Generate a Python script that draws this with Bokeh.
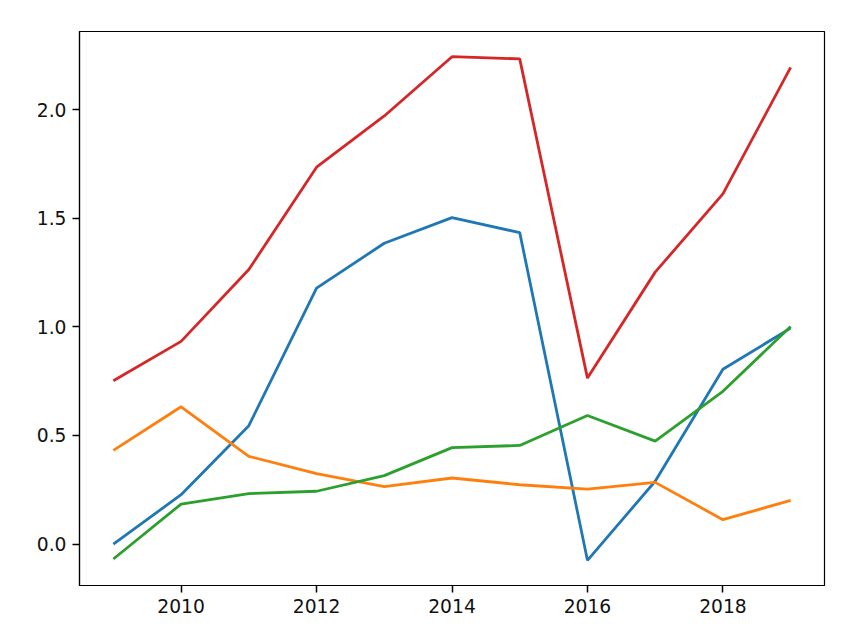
from bokeh.plotting import figure
from bokeh.models import Range1d, FixedTicker
from bokeh.embed import file_html
from bokeh.resources import INLINE

years = [2009, 2010, 2011, 2012, 2013, 2014, 2015, 2016, 2017, 2018, 2019]
blue = [0.0, 0.227, 0.545, 1.178, 1.385, 1.503, 1.434, -0.075, 0.289, 0.805, 0.994]
orange = [0.431, 0.632, 0.404, 0.324, 0.264, 0.304, 0.273, 0.253, 0.284, 0.112, 0.201]
green = [-0.069, 0.184, 0.232, 0.243, 0.315, 0.444, 0.454, 0.592, 0.474, 0.703, 1.002]
red = [0.752, 0.933, 1.264, 1.735, 1.971, 2.244, 2.234, 0.764, 1.252, 1.612, 2.195]

x_ticks = [2010, 2012, 2014, 2016, 2018]
y_ticks = [0.0, 0.5, 1.0, 1.5, 2.0]

series = [(blue, "#1f77b4"), (orange, "#ff7f0e"), (green, "#2ca02c"), (red, "#d62728")]

all_y = blue + orange + green + red
ymin, ymax = min(all_y), max(all_y)
ypad = 0.05 * (ymax - ymin)
xpad = 0.05 * (max(years) - min(years))

p = figure(width=853, height=634, output_backend="svg", toolbar_location=None,
           x_range=Range1d(min(years) - xpad, max(years) + xpad),
           y_range=Range1d(ymin - ypad, ymax + ypad),
           min_border_left=79, min_border_right=29, min_border_top=31, min_border_bottom=49)

for vals, col in series:
    p.line(years, vals, line_color=col, line_width=2.8)

p.xgrid.visible = False
p.ygrid.visible = False
p.outline_line_color = "black"
p.outline_line_width = 1.2
p.outline_line_alpha = 1.0

p.xaxis.ticker = FixedTicker(ticks=x_ticks)
p.yaxis.ticker = FixedTicker(ticks=y_ticks)
p.yaxis.major_label_overrides = {v: f"{v:.1f}" for v in y_ticks}

for ax in (p.xaxis, p.yaxis):
    ax.axis_line_color = "black"
    ax.axis_line_width = 1.2
    ax.major_tick_line_color = "black"
    ax.major_tick_line_width = 1.5
    ax.major_tick_out = 7
    ax.major_tick_in = 0
    ax.minor_tick_line_color = None
    ax.major_label_text_font = "DejaVu Sans"
    ax.major_label_text_font_size = "18.7px"
    ax.major_label_text_color = "#111111"
    ax.major_label_standoff = 6

open("out.html", "w").write(file_html(p, INLINE))
